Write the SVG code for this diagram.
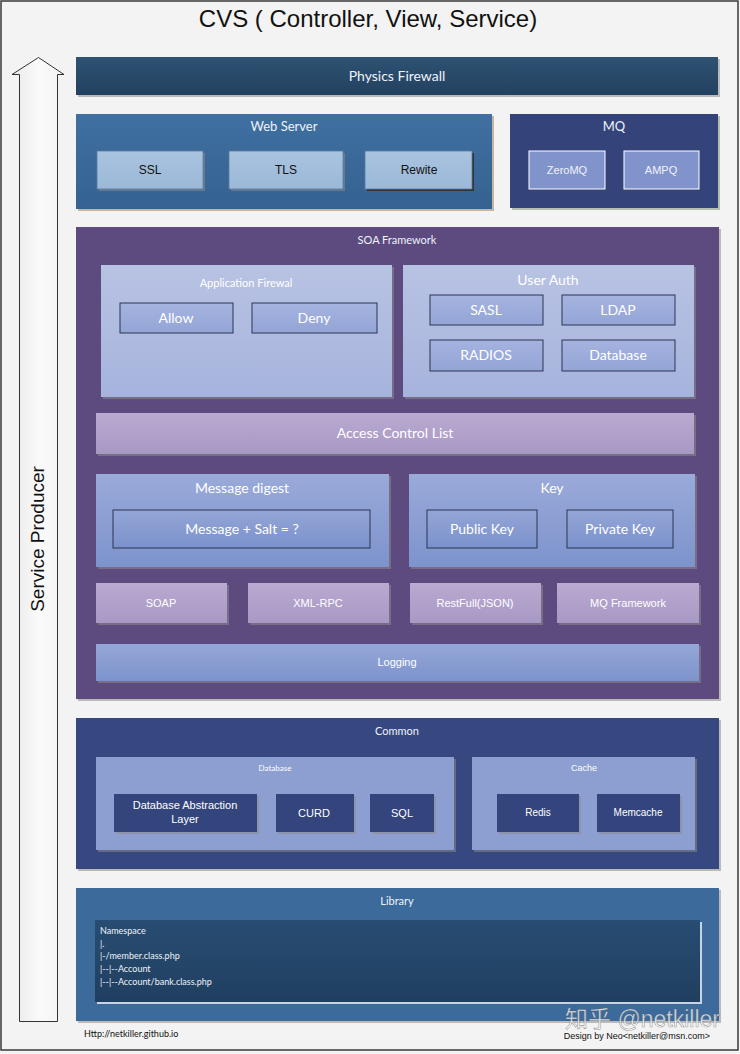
<svg xmlns="http://www.w3.org/2000/svg" width="740" height="1054" viewBox="0 0 740 1054">
<defs>
<linearGradient id="gArrow" x1="0" x2="1" y1="0" y2="0"><stop offset="0" stop-color="#e8e8e8"/><stop offset="0.5" stop-color="#fafafa"/><stop offset="1" stop-color="#f4f4f4"/></linearGradient>
<linearGradient id="gPF" x1="0" x2="0" y1="0" y2="1"><stop offset="0" stop-color="#2e5273"/><stop offset="1" stop-color="#23415f"/></linearGradient>
<linearGradient id="gWS" x1="0" x2="0" y1="0" y2="1"><stop offset="0" stop-color="#3f70a1"/><stop offset="1" stop-color="#356290"/></linearGradient>
<linearGradient id="gSSL" x1="0" x2="0" y1="0" y2="1"><stop offset="0" stop-color="#a9c4df"/><stop offset="1" stop-color="#9bb8d8"/></linearGradient>
<linearGradient id="gAF" x1="0" x2="0" y1="0" y2="1"><stop offset="0" stop-color="#b8c3e3"/><stop offset="1" stop-color="#a6b3dc"/></linearGradient>
<linearGradient id="gAFi" x1="0" x2="0" y1="0" y2="1"><stop offset="0" stop-color="#a5b3df"/><stop offset="1" stop-color="#93a4d6"/></linearGradient>
<linearGradient id="gMD" x1="0" x2="0" y1="0" y2="1"><stop offset="0" stop-color="#9aaad9"/><stop offset="1" stop-color="#7d93cc"/></linearGradient>
<linearGradient id="gMDi" x1="0" x2="0" y1="0" y2="1"><stop offset="0" stop-color="#94a6d7"/><stop offset="1" stop-color="#7b91cb"/></linearGradient>
<linearGradient id="gACL" x1="0" x2="0" y1="0" y2="1"><stop offset="0" stop-color="#b9aad1"/><stop offset="1" stop-color="#a898c4"/></linearGradient>
<linearGradient id="gLog" x1="0" x2="0" y1="0" y2="1"><stop offset="0" stop-color="#95a7d7"/><stop offset="1" stop-color="#7d93cc"/></linearGradient>
<linearGradient id="gNS" x1="0" x2="0" y1="0" y2="1"><stop offset="0" stop-color="#284d72"/><stop offset="1" stop-color="#203f60"/></linearGradient>
</defs>
<style>
.cal{font-family:"Lato","Open Sans","Liberation Sans",sans-serif;}
.ari{font-family:"Liberation Sans",Arial,sans-serif;}
.w{fill:#ffffff;}
.lt{fill:#eef2fa;}
.sh{fill:#8a8a8a;opacity:0.55;}
.ib{stroke:#2d3550;stroke-width:1;}
</style>
<rect x="0" y="0" width="740" height="1054" fill="#f3f3f3"/>
<rect x="1" y="1" width="737" height="1049" fill="none" stroke="#3a3a3a" stroke-width="1.5"/>

<g id="title"><text x="368" y="27" text-anchor="middle" class="ari" font-size="24" fill="#111">CVS ( Controller, View, Service)</text></g>

<g id="service-producer">
<path d="M19.5,1021.5 L19.5,74.5 L12,74.5 L38.5,57.5 L64,74.5 L57.5,74.5 L57.5,1021.5 Z" fill="url(#gArrow)" stroke="#333" stroke-width="1"/>
<text transform="translate(44,539) rotate(-90)" text-anchor="middle" class="ari" font-size="19" fill="#111">Service Producer</text>
</g>

<g id="physics-firewall">
<rect x="78" y="59" width="642" height="38" class="sh"/>
<rect x="76" y="57" width="642" height="38" fill="url(#gPF)"/>
<text x="397" y="81" text-anchor="middle" class="cal lt" font-size="14">Physics Firewall</text>
</g>

<g id="web-server">
<rect x="78" y="116" width="416" height="95" fill="#b59a7a" opacity="0.7"/>
<rect x="76" y="114" width="416" height="95" fill="url(#gWS)"/>
<text x="284" y="131" text-anchor="middle" class="cal lt" font-size="13">Web Server</text>
<g id="ssl"><rect x="99" y="153" width="106" height="38" class="sh"/><rect x="97" y="151" width="106" height="38" fill="url(#gSSL)" stroke="#5a7aa0" stroke-width="0.8"/><text x="150" y="174" text-anchor="middle" class="ari" font-size="12" fill="#111">SSL</text></g>
<g id="tls"><rect x="231" y="153" width="114" height="38" class="sh"/><rect x="229" y="151" width="114" height="38" fill="url(#gSSL)" stroke="#5a7aa0" stroke-width="0.8"/><text x="286" y="174" text-anchor="middle" class="ari" font-size="12" fill="#111">TLS</text></g>
<g id="rewite"><rect x="367" y="153" width="107" height="38" fill="#333"/><rect x="365" y="151" width="107" height="38" fill="url(#gSSL)" stroke="#5a7aa0" stroke-width="0.8"/><text x="419" y="174" text-anchor="middle" class="ari" font-size="12" fill="#111">Rewite</text></g>
</g>

<g id="mq">
<rect x="512" y="116" width="208" height="94" fill="#8a9a80" opacity="0.6"/>
<rect x="510" y="114" width="208" height="94" fill="#34447a"/>
<text x="614" y="131" text-anchor="middle" class="cal lt" font-size="13">MQ</text>
<g id="zeromq"><rect x="529" y="151" width="76" height="38" fill="#8193cb" stroke="#ffffff" stroke-width="1"/><text x="567" y="174" text-anchor="middle" class="ari" font-size="11" fill="#f0f2fa">ZeroMQ</text></g>
<g id="ampq"><rect x="624" y="151" width="75" height="38" fill="#8193cb" stroke="#ffffff" stroke-width="1"/><text x="661" y="174" text-anchor="middle" class="ari" font-size="11" fill="#f0f2fa">AMPQ</text></g>
</g>

<g id="soa-framework">
<rect x="78" y="229" width="643" height="472" class="sh"/>
<rect x="76" y="227" width="643" height="472" fill="#5d4b80"/>
<text x="397" y="244" text-anchor="middle" class="cal lt" font-size="11">SOA Framework</text>

<g id="application-firewal">
<rect x="103" y="267" width="291" height="132" class="sh"/>
<rect x="101" y="265" width="291" height="132" fill="url(#gAF)"/>
<text x="246" y="287" text-anchor="middle" class="cal w" font-size="11">Application Firewal</text>
<g id="allow"><rect x="120" y="303" width="113" height="30" fill="url(#gAFi)" class="ib"/><text x="176" y="323" text-anchor="middle" class="cal w" font-size="14">Allow</text></g>
<g id="deny"><rect x="252" y="303" width="125" height="30" fill="url(#gAFi)" class="ib"/><text x="314" y="323" text-anchor="middle" class="cal w" font-size="14">Deny</text></g>
</g>

<g id="user-auth">
<rect x="405" y="267" width="291" height="132" class="sh"/>
<rect x="403" y="265" width="291" height="132" fill="url(#gAF)"/>
<text x="548" y="285" text-anchor="middle" class="cal w" font-size="14">User Auth</text>
<g id="sasl"><rect x="430" y="295" width="113" height="30" fill="url(#gAFi)" class="ib"/><text x="486" y="315" text-anchor="middle" class="cal w" font-size="14">SASL</text></g>
<g id="ldap"><rect x="562" y="295" width="113" height="30" fill="url(#gAFi)" class="ib"/><text x="618" y="315" text-anchor="middle" class="cal w" font-size="14">LDAP</text></g>
<g id="radios"><rect x="430" y="340" width="113" height="31" fill="url(#gAFi)" class="ib"/><text x="486" y="360" text-anchor="middle" class="cal w" font-size="14">RADIOS</text></g>
<g id="database-auth"><rect x="562" y="340" width="113" height="31" fill="url(#gAFi)" class="ib"/><text x="618" y="360" text-anchor="middle" class="cal w" font-size="14">Database</text></g>
</g>

<g id="access-control-list">
<rect x="98" y="415" width="598" height="41" class="sh"/>
<rect x="96" y="413" width="598" height="41" fill="url(#gACL)"/>
<text x="395" y="438" text-anchor="middle" class="cal w" font-size="14">Access Control List</text>
</g>

<g id="message-digest">
<rect x="98" y="476" width="293" height="93" class="sh"/>
<rect x="96" y="474" width="293" height="93" fill="url(#gMD)"/>
<text x="242" y="493" text-anchor="middle" class="cal w" font-size="14">Message digest</text>
<g id="message-salt"><rect x="113" y="510" width="257" height="38" fill="url(#gMDi)" class="ib"/><text x="242" y="534" text-anchor="middle" class="cal w" font-size="14">Message + Salt = ?</text></g>
</g>

<g id="key">
<rect x="411" y="476" width="286" height="93" class="sh"/>
<rect x="409" y="474" width="286" height="93" fill="url(#gMD)"/>
<text x="552" y="493" text-anchor="middle" class="cal w" font-size="14">Key</text>
<g id="public-key"><rect x="427" y="510" width="110" height="38" fill="url(#gMDi)" class="ib"/><text x="482" y="534" text-anchor="middle" class="cal w" font-size="14">Public Key</text></g>
<g id="private-key"><rect x="567" y="510" width="106" height="38" fill="url(#gMDi)" class="ib"/><text x="620" y="534" text-anchor="middle" class="cal w" font-size="14">Private Key</text></g>
</g>

<g id="soap"><rect x="98" y="585" width="131" height="40" class="sh"/><rect x="96" y="583" width="131" height="40" fill="url(#gACL)"/><text x="161" y="607" text-anchor="middle" class="ari w" font-size="11">SOAP</text></g>
<g id="xml-rpc"><rect x="250" y="585" width="141" height="40" class="sh"/><rect x="248" y="583" width="141" height="40" fill="url(#gACL)"/><text x="318" y="607" text-anchor="middle" class="ari w" font-size="11">XML-RPC</text></g>
<g id="restfull"><rect x="412" y="585" width="131" height="40" class="sh"/><rect x="410" y="583" width="131" height="40" fill="url(#gACL)"/><text x="475" y="607" text-anchor="middle" class="ari w" font-size="11">RestFull(JSON)</text></g>
<g id="mq-framework"><rect x="559" y="585" width="142" height="40" class="sh"/><rect x="557" y="583" width="142" height="40" fill="url(#gACL)"/><text x="628" y="607" text-anchor="middle" class="ari w" font-size="11">MQ Framework</text></g>

<g id="logging"><rect x="98" y="646" width="603" height="37" class="sh"/><rect x="96" y="644" width="603" height="37" fill="url(#gLog)"/><text x="397" y="666" text-anchor="middle" class="ari w" font-size="11">Logging</text></g>
</g>

<g id="common">
<rect x="78" y="720" width="643" height="151" class="sh"/>
<rect x="76" y="718" width="643" height="151" fill="#37477f"/>
<text x="397" y="735" text-anchor="middle" class="cal lt" font-size="11">Common</text>
<g id="database">
<rect x="98" y="759" width="358" height="93" class="sh"/>
<rect x="96" y="757" width="358" height="93" fill="#8d9fd0"/>
<text x="275" y="771" text-anchor="middle" class="cal w" font-size="8">Database</text>
<g id="dal"><rect x="116" y="796" width="143" height="38" class="sh"/><rect x="114" y="794" width="143" height="38" fill="#33457c"/><text x="185" y="809" text-anchor="middle" class="ari w" font-size="11">Database Abstraction</text><text x="185" y="823" text-anchor="middle" class="ari w" font-size="11">Layer</text></g>
<g id="curd"><rect x="278" y="796" width="78" height="38" class="sh"/><rect x="276" y="794" width="78" height="38" fill="#33457c"/><text x="314" y="817" text-anchor="middle" class="ari w" font-size="11">CURD</text></g>
<g id="sql"><rect x="372" y="796" width="64" height="38" class="sh"/><rect x="370" y="794" width="64" height="38" fill="#33457c"/><text x="402" y="817" text-anchor="middle" class="ari w" font-size="11">SQL</text></g>
</g>
<g id="cache">
<rect x="474" y="759" width="223" height="93" class="sh"/>
<rect x="472" y="757" width="223" height="93" fill="#8d9fd0"/>
<text x="584" y="771" text-anchor="middle" class="ari w" font-size="9">Cache</text>
<g id="redis"><rect x="499" y="796" width="82" height="38" class="sh"/><rect x="497" y="794" width="82" height="38" fill="#33457c"/><text x="538" y="816" text-anchor="middle" class="ari w" font-size="10">Redis</text></g>
<g id="memcache"><rect x="599" y="796" width="83" height="38" class="sh"/><rect x="597" y="794" width="83" height="38" fill="#33457c"/><text x="638" y="816" text-anchor="middle" class="ari w" font-size="10">Memcache</text></g>
</g>
</g>

<g id="library">
<rect x="78" y="890" width="643" height="133" class="sh"/>
<rect x="76" y="888" width="643" height="133" fill="#3c6a9a"/>
<text x="397" y="905" text-anchor="middle" class="cal lt" font-size="11">Library</text>
<g id="namespace">
<rect x="97" y="922" width="605" height="82" fill="#c8d4e4"/>
<rect x="95" y="920" width="605" height="82" fill="url(#gNS)"/>
<g class="cal" font-size="9" fill="#eef2f8">
<text x="100" y="934">Namespace</text>
<text x="100" y="947">|.</text>
<text x="100" y="959">|-/member.class.php</text>
<text x="100" y="972">|--|--Account</text>
<text x="100" y="985">|--|--Account/bank.class.php</text>
</g>
</g>
</g>

<g id="footer">
<text x="84" y="1037" class="cal" font-size="9" fill="#111">Http://netkiller.github.io</text>
<text x="710" y="1039" text-anchor="end" class="ari" font-size="9" fill="#111">Design by Neo&lt;netkiller@msn.com&gt;</text>
<text x="720" y="1027" text-anchor="end" font-family="'Liberation Sans','Noto Sans CJK SC',sans-serif" font-size="23" fill="#ffffff" fill-opacity="0.75" stroke="#555" stroke-width="0.6" stroke-opacity="0.6">知乎 @netkiller</text>
</g>
</svg>
